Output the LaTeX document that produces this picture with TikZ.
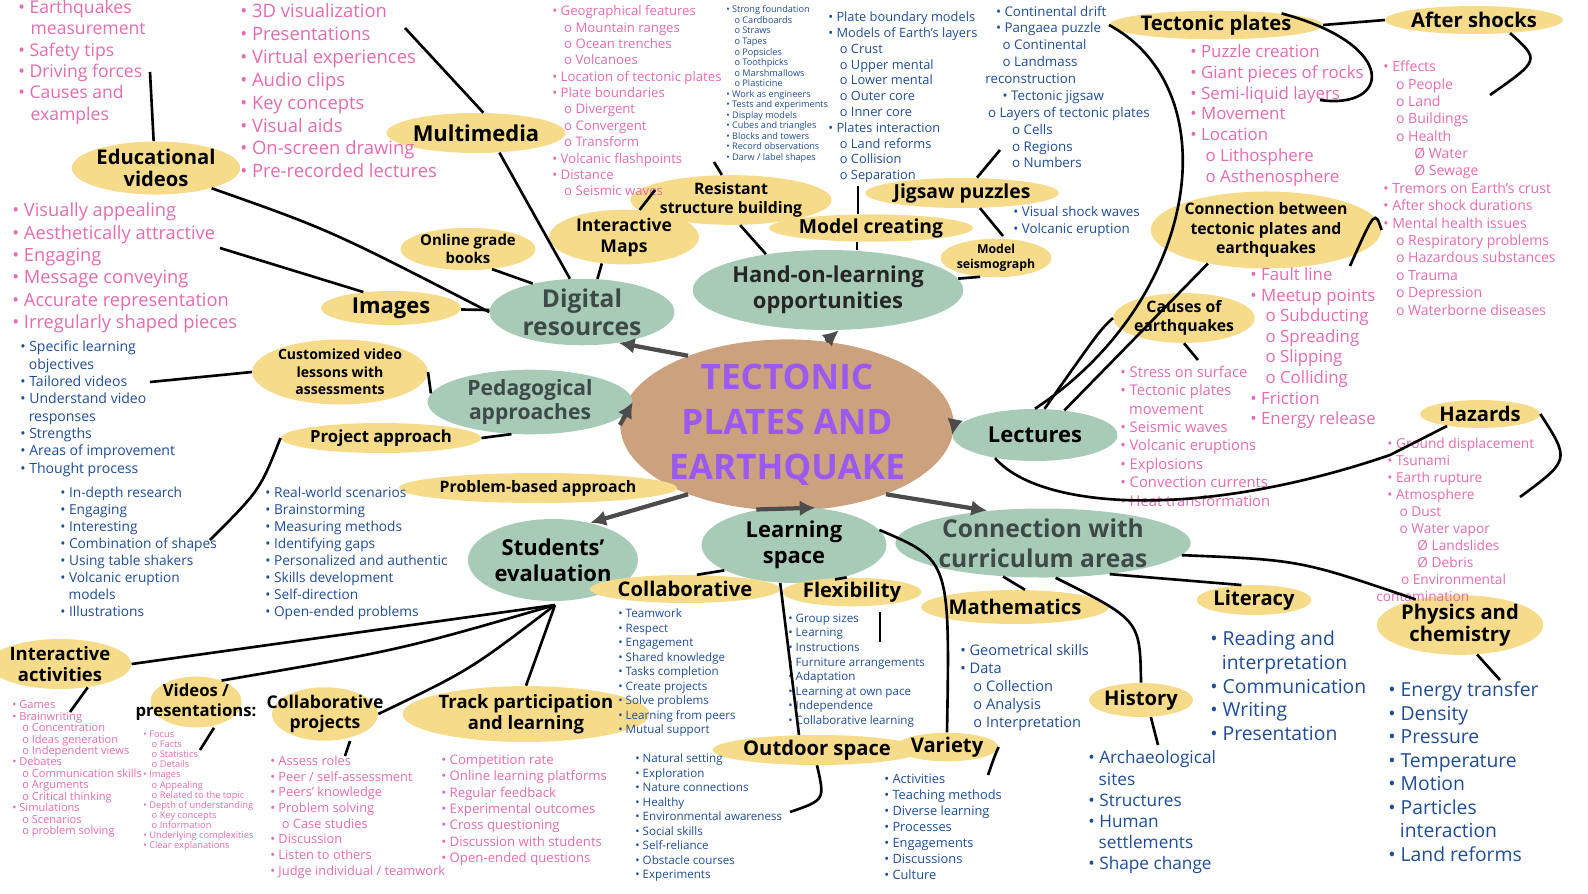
\documentclass[tikz,border=0pt]{standalone}
\usepackage{fontspec}
\setmainfont{Open Sans}
\usetikzlibrary{shapes.geometric,arrows.meta}
\definecolor{pinkt}{HTML}{E46BB0}
\definecolor{bluet}{HTML}{1E4C96}
\definecolor{hly}{HTML}{F6DC8A}
\definecolor{hubg}{HTML}{A8CBB8}
\definecolor{hubt}{HTML}{3E4A48}
\definecolor{ctrb}{HTML}{CCA27E}
\definecolor{ctrt}{HTML}{9B59F0}
\newcommand{\bu}{\textbullet\ }
\newcommand{\sbi}{\hspace{0.9em}o\ }
\newcommand{\ssbi}{\hspace{2.2em}Ø\ }
\newcommand{\fs}[2]{\fontsize{#1}{#2}\selectfont}
\def\px{0.569pt}
\tikzset{
  lst/.style={anchor=north west, align=left, inner sep=0pt, yshift=-2pt},
  pk/.style={lst, text=pinkt},
  bl/.style={lst, text=bluet},
  hl/.style={ellipse, fill=hly, align=center, inner sep=0pt, font=\bfseries\fs{11.5}{12.5}},
  hub/.style={ellipse, fill=hubg, text=hubt, align=center, inner sep=0pt, font=\bfseries\fs{14}{16}},
  conn/.style={line width=1.5pt, black},
  arr/.style={-{Latex[length=9pt,width=9pt]}, line width=2.4pt, black!70}
}
\begin{document}
\begin{tikzpicture}[x=0.02cm, y=-0.02cm]
    \useasboundingbox (0,0) rectangle (1588,893);

    % Central topic and hubs
    \node[ellipse, fill=ctrb, text=ctrt, minimum width=315*\px, minimum height=125*\px, inner sep=0pt, align=center, font=\bfseries\fs{20}{25.5}] (ctr) at (787,425) {TECTONIC\\PLATES AND\\EARTHQUAKE};
    \node[hub, minimum width=185*\px, minimum height=62*\px] (dig) at (582,312) {Digital\\resources};
    \node[hub, minimum width=265*\px, minimum height=80*\px, text=black!85, font=\bfseries\fs{12.5}{15}] (hand) at (828,290) {Hand-on-learning\\opportunities};
    \node[hub, minimum width=205*\px, minimum height=55*\px, font=\bfseries\fs{12}{14}] (ped) at (530,402) {Pedagogical\\approaches};
    \node[hub, minimum width=165*\px, minimum height=52*\px, text=black, font=\bfseries\fs{12.5}{15}] (lec) at (1035,435) {Lectures};
    \node[hub, minimum width=170*\px, minimum height=82*\px, text=black, font=\bfseries\fs{12.5}{15}] (eval) at (553,560) {Students'\\evaluation};
    \node[hub, minimum width=185*\px, minimum height=76*\px, text=black, font=\bfseries\fs{12.5}{15}] (space) at (794,545) {Learning\\space};
    \node[hub, minimum width=215*\px, minimum height=66*\px, font=\bfseries\fs{14}{17}] (curr) at (1043,543) {Connection with\\curriculum areas};

    % Arrows from the centre
    \draw[arr] (ctr.145) -- (dig.-40);
    \draw[arr] (ctr.65) -- (hand.-75);
    \draw[arr] (ctr.west) -- (ped.east);
    \draw[arr] (ctr.east) -- (lec.west);
    \draw[arr] (ctr.-145) -- (eval.45);
    \draw[arr] (ctr.-110) -- (space.60);
    \draw[arr] (ctr.-35) -- (curr.150);

    % Yellow labels
    \node[hl, minimum width=150*\px, minimum height=46*\px] (edv) at (156,168) {Educational\\videos};
    \node[hl, minimum width=150*\px, minimum height=40*\px, font=\bfseries\fs{12.5}{14}] (mm) at (476,133) {Multimedia};
    \node[hl, minimum width=110*\px, minimum height=40*\px, font=\bfseries\fs{8.5}{10.5}] (ogb) at (468,249) {Online grade\\books};
    \node[hl, minimum width=140*\px, minimum height=34*\px, font=\bfseries\fs{12.5}{14}] (img) at (391,308) {Images};
    \node[hl, minimum width=150*\px, minimum height=42*\px, font=\bfseries\fs{10}{12}] (imap) at (624,237) {Interactive\\Maps};
    \node[hl, minimum width=80*\px, minimum height=20*\px, font=\bfseries\fs{9}{11}] (rsb) at (731,200) {Resistant\\structure building};
    \node[hl, minimum width=150*\px, minimum height=26*\px, font=\bfseries\fs{11}{13}] (mc) at (871,228) {Model creating};
    \node[hl, minimum width=150*\px, minimum height=30*\px, font=\bfseries\fs{11}{13}] (jig) at (962,193) {Jigsaw puzzles};
    \node[hl, minimum width=85*\px, minimum height=32*\px, font=\bfseries\fs{7}{8.5}] (mseis) at (996,258) {Model\\seismograph};
    \node[hl, minimum width=130*\px, minimum height=40*\px, font=\bfseries\fs{8}{10}] (cvl) at (340,372) {Customized video\\lessons with\\assessments};
    \node[hl, minimum width=170*\px, minimum height=30*\px, font=\bfseries\fs{9.5}{11}] (proj) at (381,438) {Project approach};
    \node[hl, minimum width=200*\px, minimum height=30*\px, font=\bfseries\fs{9}{11}] (pba) at (538,488) {Problem-based approach};
    \node[hl, minimum width=160*\px, minimum height=28*\px] (tp) at (1216,25) {Tectonic plates};
    \node[hl, minimum width=120*\px, minimum height=28*\px] (ash) at (1474,20) {After shocks};
    \node[hl, minimum width=190*\px, minimum height=46*\px, font=\bfseries\fs{9}{11}] (cbt) at (1266,230) {Connection between\\tectonic plates and\\earthquakes};
    \node[hl, minimum width=120*\px, minimum height=40*\px, font=\bfseries\fs{9}{11}] (cause) at (1184,318) {Causes of\\earthquakes};
    \node[hl, minimum width=120*\px, minimum height=28*\px] (haz) at (1480,414) {Hazards};
    \node[hl, minimum width=100*\px, minimum height=36*\px, font=\bfseries\fs{10.5}{12}] (iact) at (60,664) {Interactive\\activities};
    \node[hl, inner xsep=-12pt, font=\bfseries\fs{10}{11.5}] (cproj) at (325,714) {Collaborative\\projects};
    \node[hl, inner xsep=-16pt, font=\bfseries\fs{9.5}{11}] (vid) at (196,702) {Videos /\\presentations:};
    \node[hl, minimum width=150*\px, minimum height=36*\px, font=\bfseries\fs{10.5}{12}] (track) at (526,714) {Track participation\\and learning};
    \node[hl, minimum width=120*\px, minimum height=28*\px] (collab) at (685,589) {Collaborative};
    \node[hl, minimum width=100*\px, minimum height=26*\px] (flex) at (852,592) {Flexibility};
    \node[hl, minimum width=140*\px, minimum height=30*\px] (out) at (817,750) {Outdoor space};
    \node[hl, minimum width=80*\px, minimum height=26*\px] (var) at (947,747) {Variety};
    \node[hl, minimum width=130*\px, minimum height=34*\px] (math) at (1015,607) {Mathematics};
    \node[hl, minimum width=100*\px, minimum height=30*\px] (lit) at (1254,600) {Literacy};
    \node[hl, minimum width=100*\px, minimum height=34*\px] (hist) at (1141,700) {History};
    \node[hl, minimum width=150*\px, minimum height=46*\px] (phys) at (1460,625) {Physics and\\chemistry};

    % Lists
    \node[pk, font=\fs{10}{12.2}] (l1) at (18,-4) {\bu Earthquakes\\\hspace{0.7em}measurement\\\bu Safety tips\\\bu Driving forces\\\bu Causes and\\\hspace{0.7em}examples};
    \node[pk, font=\fs{10.5}{13}] (l2) at (240,0) {\bu 3D visualization\\\bu Presentations\\\bu Virtual experiences\\\bu Audio clips\\\bu Key concepts\\\bu Visual aids\\\bu On-screen drawing\\\bu Pre-recorded lectures};
    \node[pk, font=\fs{7.5}{9.3}] (l3) at (552,2) {\bu Geographical features\\\sbi Mountain ranges\\\sbi Ocean trenches\\\sbi Volcanoes\\\bu Location of tectonic plates\\\bu Plate boundaries\\\sbi Divergent\\\sbi Convergent\\\sbi Transform\\\bu Volcanic flashpoints\\\bu Distance\\\sbi Seismic waves};
    \node[bl, font=\fs{5.2}{6}] (l4) at (726,2) {\bu Strong foundation\\\sbi Cardboards\\\sbi Straws\\\sbi Tapes\\\sbi Popsicles\\\sbi Toothpicks\\\sbi Marshmallows\\\sbi Plasticine\\\bu Work as engineers\\\bu Tests and experiments\\\bu Display models\\\bu Cubes and triangles\\\bu Blocks and towers\\\bu Record observations\\\bu Darw / label shapes};
    \node[bl, font=\fs{7.3}{9}] (l5) at (828,8) {\bu Plate boundary models\\\bu Models of Earth's layers\\\sbi Crust\\\sbi Upper mental\\\sbi Lower mental\\\sbi Outer core\\\sbi Inner core\\\bu Plates interaction\\\sbi Land reforms\\\sbi Collision\\\sbi Separation};
    \node[bl, font=\fs{7.6}{9.6}] (l6) at (985,2) {\hspace{0.8em}\bu Continental drift\\\hspace{0.8em}\bu Pangaea puzzle\\\hspace{1.3em}o Continental\\\hspace{1.3em}o Landmass\\reconstruction\\\hspace{1.3em}\bu Tectonic jigsaw\\\hspace{0.2em}o Layers of tectonic plates\\\hspace{2em}o Cells\\\hspace{2em}o Regions\\\hspace{2em}o Numbers};
    \node[pk, font=\fs{9.6}{11.8}] (l7) at (1190,41) {\bu Puzzle creation\\\bu Giant pieces of rocks\\\bu Semi-liquid layers\\\bu Movement\\\bu Location\\\sbi Lithosphere\\\sbi Asthenosphere};
    \node[pk, font=\fs{8}{9.9}] (l8) at (1383,57) {\bu Effects\\\sbi People\\\sbi Land\\\sbi Buildings\\\sbi Health\\\ssbi Water\\\ssbi Sewage\\\bu Tremors on Earth's crust\\\bu After shock durations\\\bu Mental health issues\\\sbi Respiratory problems\\\sbi Hazardous substances\\\sbi Trauma\\\sbi Depression\\\sbi Waterborne diseases};
    \node[bl, font=\fs{7.6}{9.7}] (l9) at (1013,202) {\bu Visual shock waves\\\bu Volcanic eruption};
    \node[pk, font=\fs{9.6}{11.7}] (l10) at (1250,264) {\bu Fault line\\\bu Meetup points\\\sbi Subducting\\\sbi Spreading\\\sbi Slipping\\\sbi Colliding\\\bu Friction\\\bu Energy release};
    \node[pk, font=\fs{8.4}{10.5}] (l11) at (1120,362) {\bu Stress on surface\\\bu Tectonic plates\\\hspace{0.6em}movement\\\bu Seismic waves\\\bu Volcanic eruptions\\\bu Explosions\\\bu Convection currents\\\bu Heat transformation};
    \node[pk, font=\fs{7.8}{9.7}] (l12) at (1376,434) {\hspace{0.8em}\bu Ground displacement\\\hspace{0.8em}\bu Tsunami\\\hspace{0.8em}\bu Earth rupture\\\hspace{0.8em}\bu Atmosphere\\\hspace{0.8em}\sbi Dust\\\hspace{0.8em}\sbi Water vapor\\\hspace{0.8em}\ssbi Landslides\\\hspace{0.8em}\ssbi Debris\\\hspace{1.8em}o Environmental\\contamination};
    \node[pk, font=\fs{10.4}{12.7}] (l13) at (12,199) {\bu Visually appealing\\\bu Aesthetically attractive\\\bu Engaging\\\bu Message conveying\\\bu Accurate representation\\\bu Irregularly shaped pieces};
    \node[bl, font=\fs{8}{9.9}] (l14) at (20,337) {\bu Specific learning\\\hspace{0.6em}objectives\\\bu Tailored videos\\\bu Understand video\\\hspace{0.6em}responses\\\bu Strengths\\\bu Areas of improvement\\\bu Thought process};
    \node[bl, font=\fs{7.8}{9.7}] (l15) at (60,483) {\bu In-depth research\\\bu Engaging\\\bu Interesting\\\bu Combination of shapes\\\bu Using table shakers\\\bu Volcanic eruption\\\hspace{0.6em}models\\\bu Illustrations};
    \node[bl, font=\fs{7.8}{9.7}] (l16) at (265,483) {\bu Real-world scenarios\\\bu Brainstorming\\\bu Measuring methods\\\bu Identifying gaps\\\bu Personalized and authentic\\\bu Skills development\\\bu Self-direction\\\bu Open-ended problems};
    \node[pk, font=\fs{6.3}{6.5}] (l17) at (12,697) {\bu Games\\\bu Brainwriting\\\sbi Concentration\\\sbi Ideas generation\\\sbi Independent views\\\bu Debates\\\sbi Communication skills\\\sbi Arguments\\\sbi Critical thinking\\\bu Simulations\\\sbi Scenarios\\\sbi problem solving};
    \node[pk, font=\fs{5.3}{5.75}] (l18) at (143,727) {\bu Focus\\\sbi Facts\\\sbi Statistics\\\sbi Details\\\bu Images\\\sbi Appealing\\\sbi Related to the topic\\\bu Depth of understanding\\\sbi Key concepts\\\sbi Information\\\bu Underlying complexities\\\bu Clear explanations};
    \node[pk, font=\fs{7.3}{8.9}] (l19) at (270,752) {\bu Assess roles\\\bu Peer / self-assessment\\\bu Peers' knowledge\\\bu Problem solving\\\sbi Case studies\\\bu Discussion\\\bu Listen to others\\\bu Judge individual / teamwork};
    \node[pk, font=\fs{7.5}{9.3}] (l20) at (441,751) {\bu Competition rate\\\bu Online learning platforms\\\bu Regular feedback\\\bu Experimental outcomes\\\bu Cross questioning\\\bu Discussion with students\\\bu Open-ended questions};
    \node[bl, font=\fs{6.6}{8.25}] (l21) at (618,605) {\bu Teamwork\\\bu Respect\\\bu Engagement\\\bu Shared knowledge\\\bu Tasks completion\\\bu Create projects\\\bu Solve problems\\\bu Learning from peers\\\bu Mutual support};
    \node[bl, font=\fs{6.6}{8.3}] (l22) at (788,610) {\bu Group sizes\\\bu Learning\\\bu Instructions\\\bu Furniture arrangements\\\bu Adaptation\\\bu Learning at own pace\\\bu Independence\\\bu Collaborative learning};
    \node[bl, font=\fs{6.6}{8.25}] (l23) at (635,750) {\bu Natural setting\\\bu Exploration\\\bu Nature connections\\\bu Healthy\\\bu Environmental awareness\\\bu Social skills\\\bu Self-reliance\\\bu Obstacle courses\\\bu Experiments};
    \node[bl, font=\fs{7.3}{9.1}] (l24) at (884,770) {\bu Activities\\\bu Teaching methods\\\bu Diverse learning\\\bu Processes\\\bu Engagements\\\bu Discussions\\\bu Culture};
    \node[bl, font=\fs{8.3}{10.2}] (l25) at (960,641) {\bu Geometrical skills\\\bu Data\\\sbi Collection\\\sbi Analysis\\\sbi Interpretation};
    \node[bl, font=\fs{9.8}{12}] (l26) at (1088,747) {\bu Archaeological\\\hspace{0.6em}sites\\\bu Structures\\\bu Human\\\hspace{0.6em}settlements\\\bu Shape change};
    \node[bl, font=\fs{11}{13.5}] (l27) at (1210,627) {\bu Reading and\\\hspace{0.6em}interpretation\\\bu Communication\\\bu Writing\\\bu Presentation};
    \node[bl, font=\fs{11}{13.4}] (l28) at (1388,678) {\bu Energy transfer\\\bu Density\\\bu Pressure\\\bu Temperature\\\bu Motion\\\bu Particles\\\hspace{0.6em}interaction\\\bu Land reforms};

    % Connectors: digital resources
    \draw[conn] (edv.-20) .. controls (330,230) .. (dig.180);
    \draw[conn] (edv.95) -- (150,72);
    \draw[conn] (405,28) -- (mm.70);
    \draw[conn] (mm.-40) -- (dig.110);
    \draw[conn] (ogb.-40) -- (dig.150);
    \draw[conn] (img) -- (dig);
    \draw[conn] (img.150) -- (220,248);
    \draw[conn] (imap.-130) -- (dig.65);
    \draw[conn] (imap.60) -- (655,190);
    % hand-on learning
    \draw[conn] (rsb.-70) -- (hand.150);
    \draw[conn] (rsb.110) -- (714,162);
    \draw[conn] (858,186) -- (mc.north -| 858,0);
    \draw[conn] (mc.south -| 857,0) -- (hand.north -| 857,0);
    \draw[conn] (jig.north) ++(15,0) -- (1000,150);
    \draw[conn] (1003,236) -- (jig.-40);
    \draw[conn] (mseis.-130) -- (hand.5);
    % pedagogical approaches
    \draw[conn] (150,382) -- (cvl.west);
    \draw[conn] (cvl.east) -- (ped.175);
    \draw[conn] (proj.east) -- (ped.-120);
    \draw[conn] (proj.west) .. controls (260,490) .. (210,540);
    % students' evaluation
    \coordinate (ev) at (555,605);
    \draw[conn] (ev) -- (iact.east);
    \draw[conn] (ev) .. controls (400,650) .. (vid.40);
    \draw[conn] (ev) .. controls (470,670) .. (cproj.east);
    \draw[conn] (ev) -- (track.north);
    \draw[conn] (iact.-40) -- (70,712);
    \draw[conn] (vid.south) ++(18,0) -- (200,750);
    \draw[conn] (cproj.south) ++(25,0) -- (345,756);
    % learning space
    \draw[conn] (space.-160) -- (collab.50);
    \draw[conn] (space.-40) -- (flex.110);
    \draw[conn] (880,612) -- (880,642);
    \draw[conn] (space.-110) -- (out.140);
    \draw[conn] (space.10) .. controls (950,560) .. (var.north);
    \draw[conn] (out.south) .. controls (825,800) .. (790,812);
    \draw[conn] (var.east) .. controls (995,755) .. (988,775);
    % curriculum areas
    \draw[conn] (curr.-140) -- (math.60);
    \draw[conn] (curr.-25) -- (lit.130);
    \draw[conn] (curr.-70) .. controls (1140,620) .. (hist.north);
    \draw[conn] (curr.-5) .. controls (1300,560) .. (phys.150);
    \draw[conn] (hist.-60) -- (1158,745);
    \draw[conn] (phys.-60) -- (1500,680);
    % lectures
    \draw[conn] (lec.north) .. controls (1200,300) and (1230,90) .. (tp.west);
    \draw[conn] (lec.40) -- (cbt.-150);
    \draw[conn] (lec.70) .. controls (1100,330) .. (cause.west);
    \draw[conn] (lec.-150) .. controls (1040,510) and (1200,520) .. (1390,455) -- (haz.-160);
    \draw[conn] (tp.east) -- (ash.west);
    \draw[conn] (tp.10) .. controls (1400,45) and (1390,110) .. (1320,100);
    \draw[conn] (ash.-20) .. controls (1540,60) .. (1490,95);
    \draw[conn] (cbt.east) .. controls (1375,210) .. (1350,266);
    \draw[conn] (cause.south) -- (1198,360);
    \draw[conn] (haz.east) .. controls (1570,460) .. (1520,497);
\end{tikzpicture}
\end{document}
